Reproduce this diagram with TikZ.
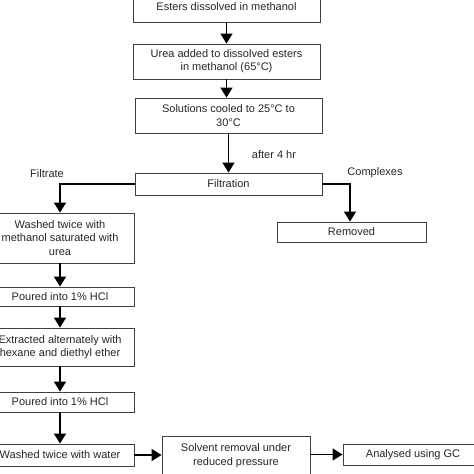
\documentclass[tikz,border=0pt]{standalone}
\usepackage{fontspec}
\setmainfont{Liberation Sans}
\usetikzlibrary{arrows.meta}
\begin{document}
\begin{tikzpicture}[x=1pt,y=-1pt,
  box/.style={draw=black!75,line width=0.9pt,fill=white,rectangle,inner sep=0pt,align=center,font=\fontsize{11}{13.3}\selectfont,text=black!85},
  conn/.style={draw=black,line width=1.5pt,-{Triangle[length=10pt,width=12pt]}},
  lab/.style={font=\fontsize{11}{13}\selectfont,text=black!85}]
\useasboundingbox (0,0) rectangle (474,474);
\clip (0,0) rectangle (474,474);
\node[box,minimum width=187,minimum height=36] (b1) at (226.5,4) {\\Esters dissolved in methanol};
\node[box,minimum width=187,minimum height=35] (b2) at (226.5,61.5) {Urea added to dissolved esters\\in methanol (65°C)};
\node[box,minimum width=187,minimum height=35] (b3) at (228.5,115.5) {Solutions cooled to 25°C to\\30°C};
\node[box,minimum width=187,minimum height=22] (filt) at (228.5,184) {Filtration};
\node[box,minimum width=148,minimum height=50] (w1) at (60,238) {Washed twice with\\methanol saturated with\\urea};
\node[box,minimum width=149,minimum height=20] (rem) at (351.5,232) {Removed};
\node[box,minimum width=148,minimum height=19] (p1) at (60,296.5) {Poured into 1\% HCl};
\node[box,minimum width=148,minimum height=38] (ex) at (60,347) {Extracted alternately with\\hexane and diethyl ether};
\node[box,minimum width=148,minimum height=20] (p2) at (60,402) {Poured into 1\% HCl};
\node[box,minimum width=148,minimum height=22] (w2) at (60,455) {Washed twice with water};
\node[box,minimum width=148,minimum height=39] (sv) at (236,455.5) {Solvent removal under\\reduced pressure};
\node[box,minimum width=140,minimum height=21] (an) at (413,454.5) {Analysed using GC};
\node[lab] (t4) at (274,155) {after 4 hr};
\node[lab] (tf) at (47,174) {Filtrate};
\node[lab] (tc) at (375,173) {Complexes};
\draw[conn] (b1.south) -- (b2.north);
\draw[conn] (b2.south) -- (b2.south |- b3.north);
\draw[conn] (b3.south) -- (filt.north);
\draw[conn] (filt.west) -| (w1.north);
\draw[conn] (filt.east) -| (rem.north -| 350,0);
\draw[conn] (w1.south) -- (p1.north);
\draw[conn] (p1.south) -- (ex.north);
\draw[conn] (ex.south) -- (p2.north);
\draw[conn] (p2.south) -- (w2.north);
\draw[conn] (w2.east) -- (w2.east -| sv.west);
\draw[conn] (sv.east |- an.west) -- (an.west);
\end{tikzpicture}
\end{document}
